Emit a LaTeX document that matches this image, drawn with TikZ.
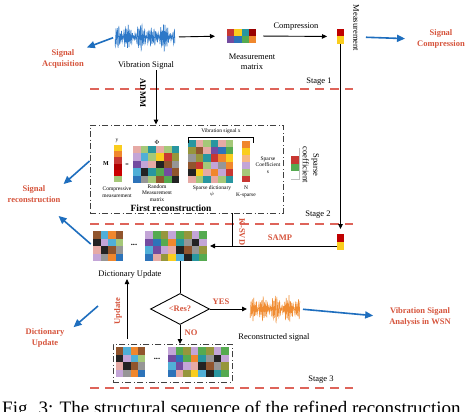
\documentclass[tikz,border=0pt]{standalone}
\usepackage{fontspec}
\setmainfont{Liberation Serif}
\usetikzlibrary{positioning, arrows.meta, shapes.geometric}

\definecolor{sigred}{RGB}{214,84,60}
\definecolor{pfeilblau}{RGB}{30,110,190}
\definecolor{stufenrot}{RGB}{222,100,90}
\definecolor{wblau}{RGB}{45,120,200}
\definecolor{worange}{RGB}{240,140,50}
% Farbpalette fuer die Matrizen
\definecolor{pal0}{RGB}{200,55,50}
\definecolor{pal1}{RGB}{240,135,45}
\definecolor{pal2}{RGB}{250,205,30}
\definecolor{pal3}{RGB}{85,170,80}
\definecolor{pal4}{RGB}{165,200,120}
\definecolor{pal5}{RGB}{45,115,185}
\definecolor{pal6}{RGB}{80,175,215}
\definecolor{pal7}{RGB}{115,75,160}
\definecolor{pal8}{RGB}{195,165,215}
\definecolor{pal9}{RGB}{230,170,165}
\definecolor{pal10}{RGB}{35,35,35}
\definecolor{pal11}{RGB}{145,85,45}
\definecolor{pal12}{RGB}{150,150,150}
\definecolor{pal13}{RGB}{150,150,60}
\definecolor{pal14}{RGB}{40,150,160}

% Name, x, y (oben links), Spalten, Zeilen, Zellbreite, Zellhoehe, Startwert
\newcommand{\farbfeld}[8]{%
  \node[feld, minimum width=#4*#6, minimum height=#5*#7, anchor=north west] (#1) at (#2,#3) {};
  \foreach \i in {1,...,#4}{
    \foreach \j in {1,...,#5}{
      \pgfmathtruncatemacro{\k}{mod(#8+7*\i+11*\j+3*\i*\j,15)}
      \fill[fill=pal\k] ({#2+(\i-1)*#6},{#3+(\j-1)*#7}) rectangle ++(#6,#7);
    }
  }
}

\begin{document}
\begin{tikzpicture}[
        x=1pt, y=-1pt,
        every node/.style={font=\fontsize{8.5}{10.5}\selectfont, inner sep=1pt},
        rotlabel/.style={text=sigred, font=\fontsize{8.5}{11.5}\selectfont\bfseries, align=center},
        klein/.style={font=\fontsize{5.5}{6.5}\selectfont, align=center, inner sep=0pt},
        pfeil/.style={-{Triangle[length=5pt, width=4.5pt]}, line width=0.9pt},
        blaupfeil/.style={-{Triangle[length=8pt, width=7pt]}, draw=pfeilblau, line width=1.6pt},
        stufe/.style={draw=stufenrot, line width=1.2pt, dash pattern=on 9pt off 6pt},
        rahmen/.style={draw=black!75, line width=0.9pt, dash pattern=on 6pt off 2.5pt on 1pt off 2.5pt, inner sep=0pt},
        feld/.style={inner sep=0pt, outer sep=0pt},
        raute/.style={draw, diamond, line width=0.9pt, aspect=2, minimum width=59, minimum height=31, inner sep=0pt, text=sigred, font=\fontsize{8.5}{10}\selectfont\bfseries}
    ]

    \fill[white] (0,0) rectangle (474,412);
    \useasboundingbox (0,0) rectangle (474,412);

    % Stufe 1: Signalerfassung und Kompression
    \node[feld, minimum width=60, minimum height=30] (vib) at (145,37) {};
    \draw[wblau, line width=0.5pt] plot[domain=0:60, samples=301]
        ({115+\x}, {37 + 15*(0.5*sin(\x*265)+0.3*sin(\x*235+40)+0.2*sin(\x*155+10))*(0.55+0.45*abs(sin(\x*9+20)))});
    \node (vibl) at (146,65) {Vibration Signal};
    \node[rotlabel] (acq) at (63,59) {Signal\\Acquisition};

    \node[feld, minimum width=29, minimum height=14, anchor=north west] (mmat) at (227,29) {};
    \foreach \c [count=\n] in {pal0, pal2, pal14, {red!60!black}}
        \fill[fill=\c] ({227+(\n-1)*7.25},29) rectangle ++(7.25,7);
    \foreach \c [count=\n] in {pal7, pal5, pal3, pal1}
        \fill[fill=\c] ({227+(\n-1)*7.25},36) rectangle ++(7.25,7);
    \node[align=center] (mmatl) at (252,62) {Measurement\\matrix};

    \node[feld, minimum width=7, minimum height=15, anchor=north west] (mvec) at (337,29) {};
    \fill[fill={red!75!black}] (337,29) rectangle ++(7,7.5);
    \fill[fill=pal2] (337,36.5) rectangle ++(7,7.5);
    \node[rotate=-90] (meas) at (356,28) {Measurement};
    \node[rotlabel] (comp) at (441,39) {Signal\\Compression};

    \draw[pfeil, shorten <=4pt, shorten >=12pt] (vib.east) -- (mmat.west);
    \draw[pfeil, shorten <=7pt, shorten >=10pt] (mmat.east) -- (mvec.west);
    \node (compl) at (296,27) {Compression};
    \draw[blaupfeil, shorten <=2pt, shorten >=2pt] (vib.west) -- (acq.north east);
    \draw[blaupfeil, shorten <=22pt, shorten >=11pt] (mvec.east) -- (comp.west);

    \draw[stufe] (90,89) -- (353,89);
    \node (st1) at (319,82) {Stage 1};

    % Stufe 2: erste Rekonstruktion
    \node[rahmen, minimum width=193, minimum height=88] (box1) at (186.5,169) {};
    \draw[pfeil] ([xshift=10pt]vibl.south) -- ([xshift=10pt]vibl.south |- box1.north);
    \node[rotate=-90, font=\fontsize{8.5}{10}\selectfont\bfseries] (admm) at (143,93) {ADMM};

    \node[feld, minimum width=8, minimum height=37, anchor=north west] (yvec) at (114,145) {};
    \foreach \c [count=\n] in {pal2, pal1, pal0, {red!70!black}, {red!80!black}, pal4}
        \fill[fill=\c] (114,{145+(\n-1)*6.2}) rectangle ++(8,6.2);
    \node[klein] (ylab) at (117,141) {y};
    \node[klein, font=\fontsize{6}{7}\selectfont\bfseries] (mlab) at (106,164) {M};
    \node[klein, font=\fontsize{6}{7}\selectfont\bfseries] (gleich) at (127,165) {=};
    \farbfeld{phi}{133}{146}{6}{5}{7.7}{7.4}{3}
    \node[klein, font=\fontsize{6}{7}\selectfont\bfseries] (philab) at (157,142) {$\Phi$};
    \farbfeld{psi}{188}{140}{6}{6}{7.5}{7.2}{8}
    \draw[line width=0.8pt] (188,143) -- (188,137) -- (253,137) -- (253,143);
    \node[klein] (xlab) at (221,131) {Vibration signal x};
    \node[feld, minimum width=7.5, minimum height=41.4, anchor=north west] (nvec) at (242,141) {};
    \foreach \c [count=\n] in {pal1, pal2, {pal1!60!white}, pal8, pal4, pal0}
        \fill[fill=\c] (242,{141+(\n-1)*6.9}) rectangle ++(7.5,6.9);

    \node[klein] (cml) at (117,192) {Compressive\\measurement};
    \node[klein] (rml) at (157,193) {Random\\Measurement\\matrix};
    \node[klein] (sdl) at (212,191) {Sparse dictionary\\$\psi$};
    \node[klein] (nkl) at (246,192) {N\\K-sparse};
    \node[klein] (scl) at (268,165) {Sparse\\Coefficient\\s};
    \node[font=\fontsize{9.5}{11}\selectfont\bfseries] (frl) at (171,208.5) {First reconstruction};

    \node[feld, draw=black!25, line width=0.4pt, minimum width=8, minimum height=31, anchor=north west] (svec) at (291,148) {};
    \foreach \c [count=\n] in {white, pal0, pal3, white}
        \fill[fill=\c] (291,{148+(\n-1)*7.75}) rectangle ++(8,7.75);
    \node[rotate=-90, align=center] (svl) at (311,165) {Sparse\\coefficient};

    \node[rotlabel] (rec) at (34,194) {Signal\\reconstruction};
    \draw[blaupfeil] ([yshift=8pt]box1.west) -- ([xshift=2pt]rec.north east);

    \draw[stufe] (90,224) -- (353,224);
    \node (st2) at (318,215) {Stage 2};

    % Woerterbuch-Aktualisierung
    \node[feld, minimum width=7, minimum height=16, anchor=north west] (mvec2) at (337,234) {};
    \fill[fill={red!75!black}] (337,234) rectangle ++(7,8);
    \fill[fill=pal2] (337,242) rectangle ++(7,8);
    \draw[pfeil, shorten >=5pt] (mvec.south) -- (mvec2.north);

    \farbfeld{dict1}{93}{231}{4}{4}{7.5}{7.5}{5}
    \node[font=\fontsize{8.5}{10}\selectfont\bfseries] (dots1) at (134,245) {...};
    \farbfeld{dict2}{145}{231}{8}{4}{7.75}{7.5}{2}
    \node (dupd) at (130,274) {Dictionary Update};

    \draw[pfeil, shorten >=3pt] (dict2.east -| mvec2.west) -- (dict2.east);
    \node[rotlabel] (samp) at (280,238) {SAMP};
    \draw[line width=0.9pt] ([xshift=45.5pt]box1.south) -- ([xshift=45.5pt]box1.south |- dict2.east);
    \node[rotlabel, rotate=-90] (ksvd) at (242,232) {K-SVD};
    \draw[blaupfeil, shorten <=3pt] (dict1.west) -- ([xshift=-3pt, yshift=-12pt]rec.south east);

    % Stufe 3: Pruefung des Residuums
    \node[raute] (res) at (180,309) {<Res?};
    \draw[line width=0.9pt] (dict2.south -| res.north) -- (res.north);

    \node[feld, minimum width=50, minimum height=32] (recon) at (275,309) {};
    \draw[worange, line width=0.5pt] plot[domain=0:50, samples=251]
        ({250+\x}, {309 + 15*(0.5*sin(\x*265+15)+0.3*sin(\x*235+70)+0.2*sin(\x*155))*(0.7+0.3*abs(sin(\x*11)))});
    \node (reconl) at (274,337) {Reconstructed signal};
    \draw[pfeil, shorten >=3pt] (res.east) -- (recon.west);
    \node[rotlabel] (yes) at (221,302) {YES};

    \node[rotlabel] (anal) at (420,317) {Vibration Siganl\\Analysis in WSN};
    \draw[blaupfeil, shorten <=3pt, shorten >=15pt] (recon.east) -- (anal.west);

    \node[rahmen, minimum width=119, minimum height=38, anchor=north west] (box2) at (113,344) {};
    \draw[pfeil] (res.south) -- (res.south |- box2.north);
    \node[rotlabel] (no) at (191,333) {NO};
    \farbfeld{upd1}{116}{347}{4}{4}{7.3}{7.6}{5}
    \node[font=\fontsize{8.5}{10}\selectfont\bfseries] (dots2) at (157,359) {...};
    \farbfeld{upd2}{168}{347}{8}{4}{7.6}{7.6}{2}

    \draw[pfeil] ([xshift=14pt, yshift=5pt]box2.north west) -- ([xshift=14pt]box2.north west |- dupd.south);
    \node[rotlabel, rotate=90] (updl) at (118,311) {Update};

    \node[rotlabel] (dupl) at (45,338) {Dictionary\\Update};
    \coordinate (q3) at (98,306);
    \draw[blaupfeil] (q3) -- ([xshift=8pt]dupl.north east);

    \draw[stufe] (90,388) -- (353,388);
    \node (st3) at (321,380) {Stage 3};

    % Bildunterschrift (abgeschnitten)
    \node[anchor=base west, inner sep=0pt, font=\fontsize{19}{20}\selectfont] (cap) at (2,414) {Fig. 3: The structural sequence of the refined reconstruction};

\end{tikzpicture}
\end{document}
